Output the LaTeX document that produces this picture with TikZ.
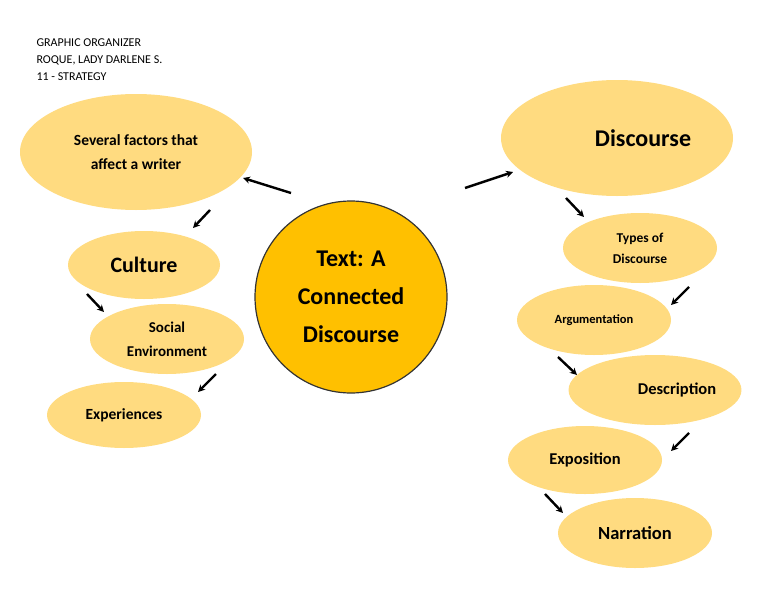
\documentclass[tikz,border=0pt]{standalone}
\usepackage{fontspec}
\setmainfont{Carlito}
\usetikzlibrary{shapes.geometric,arrows.meta}
\definecolor{lightY}{HTML}{FFDB80}
\definecolor{darkY}{HTML}{FFC000}
\tikzset{
 bub/.style={ellipse,fill=lightY,draw=none,align=center,font=\bfseries,inner sep=0pt},
 arr/.style={-{Stealth[length=7pt,width=7pt]},line width=2.4pt,black},
}
\begin{document}
\begin{tikzpicture}[x=1pt,y=-1pt]
\useasboundingbox (0,0) rectangle (768,594);
\node[font=\fontsize{12}{17}\selectfont,align=left,anchor=north west] (hdr) at (33,35) {GRAPHIC ORGANIZER\\ROQUE, LADY DARLENE S.\\11 - STRATEGY};
\node[bub,minimum width=232,minimum height=116,font=\bfseries\fontsize{15.5}{24}\selectfont] (fac) at (136,152) {Several factors that\\affect a writer};
\node[bub,minimum width=152,minimum height=68,font=\bfseries\fontsize{22}{24}\selectfont] (cul) at (144,265) {Culture};
\node[bub,minimum width=154,minimum height=70,font=\bfseries\fontsize{15}{24}\selectfont] (soc) at (167,339) {Social\\Environment};
\node[bub,minimum width=154,minimum height=66,font=\bfseries\fontsize{15.5}{18}\selectfont] (exp) at (124,415) {Experiences};
\node[circle,fill=darkY,draw=black!80,line width=1.2pt,minimum size=192,align=center,font=\bfseries\fontsize{24}{38}\selectfont] (txt) at (351,297) {Text: A\\Connected\\Discourse};
\node[bub,minimum width=232,minimum height=116,font=\bfseries\fontsize{24}{26}\selectfont] (dis) at (617,138) {\hspace*{52pt}Discourse};
\node[bub,minimum width=154,minimum height=70,font=\bfseries\fontsize{13.5}{21}\selectfont] (typ) at (640,248) {Types of\\Discourse};
\node[bub,minimum width=154,minimum height=70,font=\bfseries\fontsize{12.5}{14}\selectfont] (arg) at (594,320) {Argumentation};
\node[bub,minimum width=154,minimum height=70,font=\bfseries\fontsize{16.5}{18}\selectfont] (des) at (655,390) {\hspace*{44pt}Description};
\node[bub,minimum width=154,minimum height=68,font=\bfseries\fontsize{16.5}{18}\selectfont] (exs) at (585,460) {Exposition};
\node[bub,minimum width=154,minimum height=70,font=\bfseries\fontsize{18.5}{20}\selectfont] (nar) at (635,533) {Narration};
\foreach \n/\a/\b in {1/{291,193}/{243,178},2/{465,188}/{513,172},3/{210,210}/{193,228},4/{87,294}/{104,312},5/{216,374}/{198,392},6/{566,198}/{584,217},7/{689,287}/{671,305},8/{558,357}/{577,375},9/{689,433}/{671,451},10/{545,494}/{563,513}}{
 \coordinate (s\n) at (\a); \coordinate (e\n) at (\b);
 \draw[arr] (s\n) -- (e\n);
}
\end{tikzpicture}
\end{document}
